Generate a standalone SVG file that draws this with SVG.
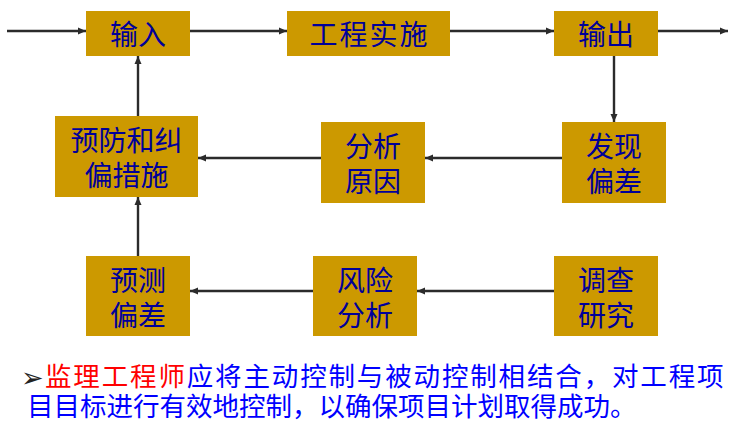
<svg xmlns="http://www.w3.org/2000/svg" width="735" height="441" viewBox="0 0 735 441">
<style>
.box{fill:#CC9900;}
.t{font-family:"Noto Sans CJK SC","Noto Sans CJK JP",sans-serif;font-size:28px;fill:#000099;text-anchor:middle;}
.c{stroke:#2b2b2b;stroke-width:2.4;fill:none;marker-end:url(#ah);}
.note{font-family:"Noto Sans CJK SC","Noto Sans CJK JP",sans-serif;font-size:26.5px;fill:#0000FF;}
</style>
<defs>
<marker id="ah" markerUnits="userSpaceOnUse" markerWidth="10" markerHeight="8" refX="8" refY="4" orient="auto">
<path d="M0,0.5 L8,4 L0,7.5 z" fill="#2b2b2b"/>
</marker>
</defs>
<rect width="735" height="441" fill="#ffffff"/>
<g id="connectors">
<line class="c" x1="7" y1="31" x2="86" y2="31"/>
<line class="c" x1="190" y1="31" x2="287" y2="31"/>
<line class="c" x1="450" y1="31" x2="554" y2="31"/>
<line class="c" x1="658" y1="31" x2="728" y2="31"/>
<line class="c" x1="614" y1="56" x2="614" y2="122"/>
<line class="c" x1="562" y1="158" x2="425" y2="158"/>
<line class="c" x1="321" y1="158" x2="198" y2="158"/>
<line class="c" x1="138" y1="116" x2="138" y2="56"/>
<line class="c" x1="138" y1="256" x2="138" y2="197"/>
<line class="c" x1="554" y1="291" x2="417" y2="291"/>
<line class="c" x1="313" y1="291" x2="190" y2="291"/>
</g>
<g id="input">
<rect class="box" x="86" y="11" width="104" height="45"/>
<text class="t" x="138" y="45">输入</text>
</g>
<g id="implement">
<rect class="box" x="287" y="11" width="163" height="45"/>
<text class="t" x="368.5" y="45" textLength="118" lengthAdjust="spacing">工程实施</text>
</g>
<g id="output">
<rect class="box" x="554" y="11" width="104" height="45"/>
<text class="t" x="606" y="45">输出</text>
</g>
<g id="discover">
<rect class="box" x="562" y="122" width="104" height="81"/>
<text class="t" x="614" y="157">发现</text>
<text class="t" x="614" y="192">偏差</text>
</g>
<g id="analyze">
<rect class="box" x="321" y="122" width="104" height="81"/>
<text class="t" x="373" y="157">分析</text>
<text class="t" x="373" y="192">原因</text>
</g>
<g id="prevent">
<rect class="box" x="55" y="116" width="143" height="81"/>
<text class="t" x="126.5" y="151">预防和纠</text>
<text class="t" x="126.5" y="186">偏措施</text>
</g>
<g id="predict">
<rect class="box" x="86" y="256" width="104" height="80"/>
<text class="t" x="138" y="291">预测</text>
<text class="t" x="138" y="326">偏差</text>
</g>
<g id="risk">
<rect class="box" x="313" y="256" width="104" height="80"/>
<text class="t" x="365" y="291">风险</text>
<text class="t" x="365" y="326">分析</text>
</g>
<g id="research">
<rect class="box" x="554" y="256" width="104" height="80"/>
<text class="t" x="606" y="291">调查</text>
<text class="t" x="606" y="326">研究</text>
</g>
<g id="note">
<text class="note"><tspan x="21" y="387" font-family="DejaVu Sans, sans-serif" font-size="27" fill="#222222">➢</tspan><tspan x="45" y="386" letter-spacing="1.85"><tspan fill="#FF0000">监理工程师</tspan>应将主动控制与被动控制相结合，对工程项</tspan><tspan x="27" y="416">目目标进行有效地控制，以确保项目计划取得成功。</tspan></text>
</g>
</svg>
